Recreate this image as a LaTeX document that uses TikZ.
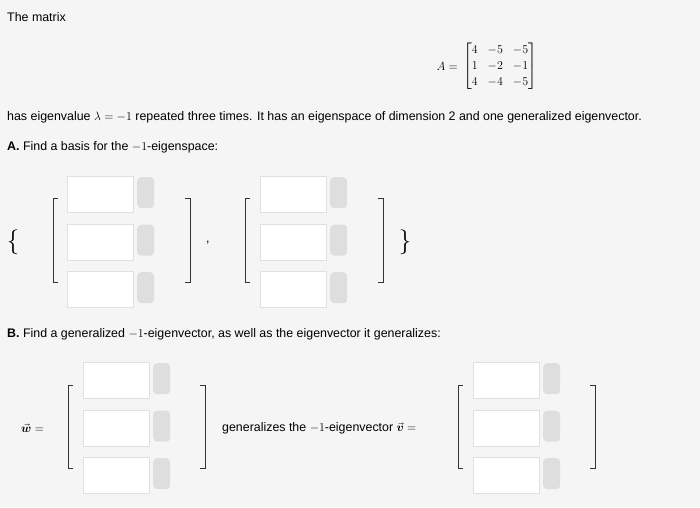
\documentclass[tikz,border=0pt]{standalone}
\usepackage{amsmath,amssymb}
\usepackage{fontspec}
\setmainfont{Liberation Sans}
\begin{document}
\begin{tikzpicture}[x=1pt,y=-1pt,
  txt/.style={anchor=west,inner sep=0pt,font=\fontsize{12.4}{14}\selectfont},
  ibox/.style={draw=black!12,fill=white,minimum width=66pt,minimum height=36pt,inner sep=0pt,line width=0.6pt},
  itab/.style={fill=black!13,rounded corners=4pt,minimum width=17pt,minimum height=31pt,inner sep=0pt},
  brk/.style={line width=0.9pt,black!80}]
\fill[black!4] (0,0) rectangle (700,507);
\useasboundingbox (0,0) rectangle (700,507);
\node[txt] (t1) at (7,17) {The matrix};
\node[txt,anchor=east] (aeq) at (458,66) {$A=$};
\node[inner sep=0pt,font=\fontsize{13}{16}\selectfont] (mat) at (500,66) {$\left[\begin{matrix}4&-5&-5\\1&-2&-1\\4&-4&-5\end{matrix}\right]$};
\node[txt] (t2) at (7,117) {has eigenvalue $\lambda=-1$ repeated three times. It has an eigenspace of dimension 2 and one generalized eigenvector.};
\node[txt] (t3) at (7,147) {\textbf{A.} Find a basis for the $-1$-eigenspace:};
\node[inner sep=0pt,font=\fontsize{30}{32}\selectfont] (lb) at (13,242) {$\{$};
\node[inner sep=0pt,font=\fontsize{30}{32}\selectfont] (rb) at (405,242) {$\}$};
\node[txt] (comma) at (206,243) {,};
\foreach \n/\bx/\top/\bl/\br/\yt/\yb in {a/67/176/53/190/198/282, b/260/176/245/383/198/282, c/83/362/68/205/385/468, d/473/362/458/595/385/468}{
  \foreach \i in {0,1,2}{
    \node[ibox,anchor=north west] (\n box\i) at (\bx,\top+\i*47.5) {};
    \node[itab,anchor=north west] (\n tab\i) at (\bx+70,\top+1+\i*47.5) {};
  }
  \draw[brk] (\bl+5,\yt) -- (\bl,\yt) -- (\bl,\yb) -- (\bl+5,\yb);
  \draw[brk] (\br-5,\yt) -- (\br,\yt) -- (\br,\yb) -- (\br-5,\yb);
}
\node[txt] (t4) at (7,334) {\textbf{B.} Find a generalized $-1$-eigenvector, as well as the eigenvector it generalizes:};
\node[txt] (w) at (21,428) {$\vec{\boldsymbol{w}}=$};
\node[txt] (t5) at (222,428) {generalizes the $-1$-eigenvector $\vec{\boldsymbol{v}}=$};
\end{tikzpicture}
\end{document}
